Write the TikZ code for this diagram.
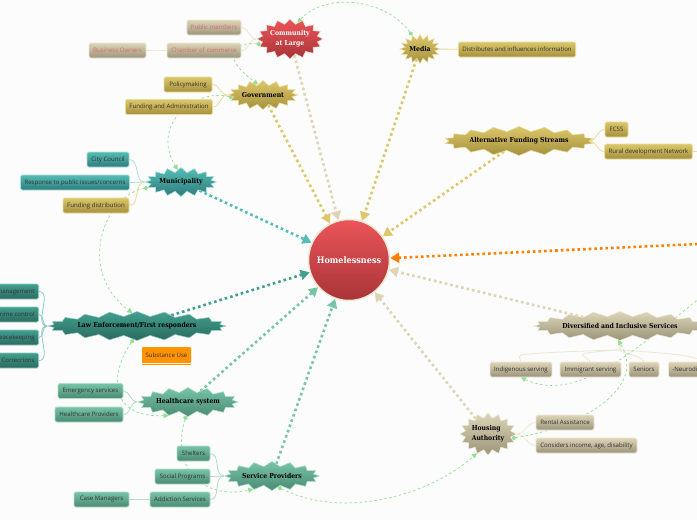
\documentclass[tikz,border=0pt]{standalone}
\usepackage{fontspec}
\setmainfont{Open Sans}
\newfontfamily\hubfont{DejaVu Serif Condensed Bold}
\usetikzlibrary{shapes.symbols,arrows.meta,backgrounds}
\definecolor{goldtop}{HTML}{DCC86A}\definecolor{goldbot}{HTML}{A58F3E}\definecolor{goldline}{HTML}{EADD9A}
\definecolor{sandtop}{HTML}{DDD5B6}\definecolor{sandbot}{HTML}{9C947A}\definecolor{sandline}{HTML}{EDE7D3}
\definecolor{tealtop}{HTML}{55BDB5}\definecolor{tealbot}{HTML}{2E7C7C}\definecolor{tealline}{HTML}{ADDFDB}
\definecolor{pinetop}{HTML}{42A08E}\definecolor{pinebot}{HTML}{2A6A5E}\definecolor{pineline}{HTML}{8CCBBE}
\definecolor{mosstop}{HTML}{78C4A6}\definecolor{mossbot}{HTML}{4A8A74}\definecolor{mossline}{HTML}{B0DCCA}
\definecolor{redtop}{HTML}{EB5558}\definecolor{redbot}{HTML}{A83438}
\definecolor{relgreen}{HTML}{8FE08F}
\definecolor{pinktext}{HTML}{D86A6A}
\tikzset{
  gold/.style={top color=goldtop,bottom color=goldbot,draw=goldline},
  sand/.style={top color=sandtop,bottom color=sandbot,draw=sandline},
  teal/.style={top color=tealtop,bottom color=tealbot,draw=tealline},
  pine/.style={top color=pinetop,bottom color=pinebot,draw=pineline},
  moss/.style={top color=mosstop,bottom color=mossbot,draw=mossline},
  leaf/.style={rectangle,rounded corners=1.5pt,line width=.8pt,minimum height=15pt,inner sep=0pt,inner xsep=4pt,text=black!80,font=\fontsize{6.1}{7}\selectfont},
  hub/.style={starburst,random starburst=0,starburst points=16,starburst point height=5pt,line width=.5pt,inner sep=0pt,align=center,text=black,font=\hubfont\fontsize{6.8}{10}\selectfont},
  twig/.style={line width=.8pt},
  spoke/.style={line width=2.6pt,dash pattern=on 2.6pt off 3pt,-{Triangle[length=9pt,width=10pt]}},
  relation/.style={relgreen,line width=.7pt,dash pattern=on 2.5pt off 2.5pt,{Circle[length=4.5pt]}-{Triangle[length=5pt,width=5pt]}},
  relationend/.style={relgreen,line width=.7pt,dash pattern=on 2.5pt off 2.5pt,-{Triangle[length=5pt,width=5pt]}},
}
\begin{document}
\begin{tikzpicture}[x=1pt,y=-1pt]
\useasboundingbox (0,0) rectangle (697,520);
\node[circle,minimum size=81pt,inner sep=0pt,top color=redtop,bottom color=redbot,draw=sandline,line width=1.5pt,text=white,font=\hubfont\fontsize{9}{10}\selectfont] (homeless) at (349,260) {Homelessness};
\node[hub,top color=redtop,bottom color=redbot,draw=sandline,text=white,minimum width=50pt,minimum height=40pt] (community) at (290,39) {Community\\at Large};
\node[hub,gold,minimum width=30pt,minimum height=29pt] (media) at (420,49) {Media};
\node[hub,gold,minimum width=52pt,minimum height=29pt] (government) at (263,95) {Government};
\node[hub,teal,minimum width=58pt,minimum height=29pt] (municipality) at (181,182) {Municipality};
\node[hub,pine,starburst points=20,minimum width=143pt,minimum height=29pt] (lawenf) at (137,326) {Law Enforcement/First responders};
\node[hub,moss,minimum width=78pt,minimum height=29pt] (healthcare) at (188,402) {Healthcare system};
\node[hub,moss,minimum width=74pt,minimum height=29pt] (service) at (272,476) {Service Providers};
\node[hub,gold,starburst points=18,minimum width=120pt,minimum height=29pt] (altfund) at (519,141) {Alternative Funding Streams};
\node[hub,sand,starburst points=20,minimum width=140pt,minimum height=29pt] (diversified) at (620,326) {Diversified and Inclusive Services};
\node[hub,sand,minimum width=46pt,minimum height=42pt,align=left] (housing) at (488,434) {Housing\\Authority};
\node[leaf,sand,text=pinktext,minimum width=54pt] (pubmembers) at (214,27.5) {Public members};
\node[leaf,sand,text=pinktext,minimum width=74pt] (chamber) at (204,50.5) {Chamber of commerce};
\node[leaf,sand,text=pinktext,minimum width=57pt] (business) at (117.5,50.5) {Business Owners};
\node[leaf,gold,minimum width=48pt] (policy) at (188,84.5) {Policymaking};
\node[leaf,gold,minimum width=86pt] (fundadmin) at (169,107) {Funding and Administration};
\node[leaf,teal,minimum width=42pt] (council) at (108,159.5) {City Council};
\node[leaf,teal,minimum width=108pt] (response) at (75,182.5) {Response to public issues/concerns};
\node[leaf,gold,minimum width=66pt] (funddist) at (96,205.5) {Funding distribution};
\node[leaf,pine,anchor=east] (risk) at (39,291.5) {Risk management};
\node[leaf,pine,anchor=east] (crime) at (39,314.5) {Crime control};
\node[leaf,pine,anchor=east] (peace) at (39,337.5) {Peacekeeping};
\node[leaf,pine,anchor=east] (jail) at (39,360.5) {Jail Correcrions};
\node[rectangle,rounded corners=1pt,fill=orange!85!yellow,minimum width=49pt,minimum height=16pt,inner sep=0pt,text=black!80,font=\fontsize{6.1}{7}\selectfont] (substance) at (166.5,355) {Substance Use};
\draw[orange!85!yellow,line width=.8pt] ([yshift=-1.5pt]substance.south west) -- ([yshift=-1.5pt]substance.south east);
\node[leaf,moss,minimum width=65pt] (emergency) at (90.5,391) {Emergency services};
\node[leaf,moss,minimum width=68pt] (healthprov) at (89,414.5) {Healthcare Providers};
\node[leaf,moss,minimum width=33pt] (shelters) at (193.5,453.5) {Shelters};
\node[leaf,moss,minimum width=55pt] (social) at (182.5,476.5) {Social Programs};
\node[leaf,moss,minimum width=60pt] (addiction) at (180,499.5) {Addiction Services};
\node[leaf,moss,minimum width=55pt] (casemgr) at (101.5,499.5) {Case Managers};
\node[leaf,gold,minimum width=116pt] (distributes) at (517,49.5) {Distributes and influences information};
\node[leaf,gold,minimum width=23pt] (fcss) at (616.5,129.5) {FCSS};
\node[leaf,gold,minimum width=87pt] (rural) at (648.5,151.5) {Rural development Network};
\node[leaf,sand,minimum width=62pt] (indigenous) at (521,369.5) {Indigenous serving};
\node[leaf,sand,minimum width=61pt] (immigrant) at (590.5,369.5) {Immigrant serving};
\node[leaf,sand,minimum width=30pt] (seniors) at (644,369.5) {Seniors};
\node[leaf,sand,anchor=west] (neuro) at (668,369.5) {-Neurodiverse serving};
\node[leaf,sand,minimum width=58pt] (rental) at (565,422.5) {Rental Assistance};
\node[leaf,sand,minimum width=101pt] (considers) at (586.5,445.5) {Considers income, age, disability};
\coordinate (orangeend) at (720,243);
\coordinate (ruralend) at (720,151.5);
\coordinate (farend) at (720,282);
\begin{pgfonlayer}{background}
\fill[white!99!black] (0,0) rectangle (697,520);
\draw[twig,sandline] (pubmembers.east) to[out=0,in=180] (community.west);
\draw[twig,sandline] (chamber.east) to[out=0,in=180] (community.west);
\draw[twig,sandline] (business) -- (chamber);
\draw[twig,goldline] (policy.east) to[out=0,in=180] (government.west);
\draw[twig,goldline] (fundadmin.east) to[out=0,in=180] (government.west);
\draw[twig,tealline] (council.east) to[out=0,in=180] (municipality.west);
\draw[twig,tealline] (response.east) -- (municipality.west);
\draw[twig,goldline] (funddist.east) to[out=0,in=180] (municipality.west);
\foreach \leafname in {risk,crime,peace,jail}
  \draw[twig,pineline] (\leafname.east) to[out=0,in=180] (lawenf.west);
\draw[twig,mossline] (emergency.east) to[out=0,in=180] (healthcare.west);
\draw[twig,mossline] (healthprov.east) to[out=0,in=180] (healthcare.west);
\draw[twig,mossline] (shelters.east) to[out=0,in=180] (service.west);
\draw[twig,mossline] (social.east) -- (service.west);
\draw[twig,mossline] (addiction.east) to[out=0,in=180] (service.west);
\draw[twig,mossline] (casemgr) -- (addiction);
\draw[twig,goldline] (media) -- (distributes);
\draw[twig,goldline] (fcss.west) to[out=180,in=0] (altfund.east);
\draw[twig,goldline] (rural.west) to[out=180,in=0] (altfund.east);
\draw[twig,goldline] (rural) -- (ruralend);
\draw[twig,sandline] (rental.west) to[out=180,in=0] (housing.east);
\draw[twig,sandline] (considers.west) to[out=180,in=0] (housing.east);
\foreach \leafname/\ctrl in {indigenous/520,immigrant/585,seniors/640,neuro/690}
  \draw[twig,sandline] (diversified.south) -- ++(0,9) .. controls (\ctrl-20,354) and (\ctrl,354) .. (\leafname.north);
\draw[spoke,sandtop] (community) -- (homeless);
\draw[spoke,goldtop] (government) -- (homeless);
\draw[spoke,goldtop] (media) -- (homeless);
\draw[spoke,tealtop] (municipality) -- (homeless);
\draw[spoke,goldtop] (altfund) -- (homeless);
\draw[spoke,orange] (orangeend) -- (homeless);
\draw[spoke,sandtop] (diversified) -- (homeless);
\draw[spoke,sandtop] (housing) -- (homeless);
\draw[spoke,pinetop] (lawenf) -- (homeless);
\draw[spoke,mosstop] (healthcare) -- (homeless);
\draw[spoke,mosstop] (service) -- (homeless);
\draw[relation] (media.120) .. controls (385,-2) and (325,-8) .. (community.65);
\draw[relation] (community.190) .. controls (222,42) and (228,62) .. (government.115);
\draw[relation] (government.185) .. controls (195,88) and (150,125) .. (municipality.105);
\draw[relation] (municipality.190) .. controls (105,195) and (75,270) .. (lawenf.110);
\draw[relation] (lawenf.255) .. controls (112,370) and (105,418) .. (healthcare.215);
\draw[relation] (healthcare.262) .. controls (170,470) and (205,500) .. (service.215);
\draw[relation] (service.-62) .. controls (345,520) and (430,495) .. (housing.240);
\draw[relation] (housing.-10) .. controls (570,430) and (650,392) .. (diversified.262);
\draw[relationend] (farend) .. controls (640,345) and (580,405) .. (indigenous.south);
\end{pgfonlayer}
\end{tikzpicture}
\end{document}
